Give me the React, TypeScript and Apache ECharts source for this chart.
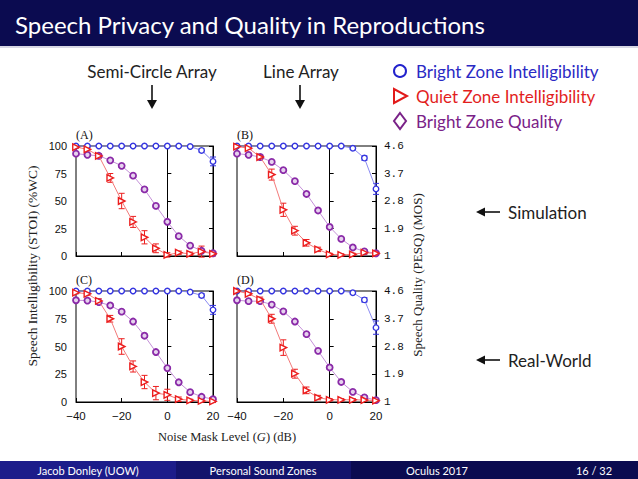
import React, { useEffect, useRef } from "react";
import * as echarts from "echarts";

const noiseLevels = [-40, -35, -30, -25, -20, -15, -10, -5, 0, 5, 10, 15, 20];
const panelNames = ["(A)", "(B)", "(C)", "(D)"];

// Bright zone intelligibility (STOI %WC)
const brightA = [100, 100, 100, 100, 100, 100, 100, 100, 100, 100, 99.5, 96, 86];
const brightB = [100, 100, 100, 100, 100, 100, 100, 100, 100, 100, 98, 89, 61];
const brightC = [100, 100, 100, 100, 100, 100, 100, 100, 100, 100, 99, 96, 83];
const brightD = [100, 100, 100, 100, 100, 100, 100, 100, 100, 100, 98.5, 92, 67];
const brightErrA = [0.5, 0.5, 0.5, 0.5, 0.5, 0.5, 0.5, 0.5, 0.5, 0.5, 0.8, 1.5, 4];
const brightErrB = [0.5, 0.5, 0.5, 0.5, 0.5, 0.5, 0.5, 0.5, 0.5, 0.5, 1, 2, 5];
const brightErrC = [0.5, 0.5, 0.5, 0.5, 0.5, 0.5, 0.5, 0.5, 0.5, 0.5, 1, 1.5, 4];
const brightErrD = [0.5, 0.5, 0.5, 0.5, 0.5, 0.5, 0.5, 0.5, 0.5, 0.5, 1, 2, 6];

// Quiet zone intelligibility (STOI %WC)
const quietA = [99, 97, 91, 71, 50, 31, 17, 7, 1, 3, 2, 4, 2];
const quietB = [99.5, 98, 90, 74, 42, 23, 12, 6, 1.5, 1, 1.5, 3, 2.4];
const quietC = [98.5, 97.5, 91, 75, 50, 32, 18, 8, 6.5, 2.5, 1.5, 1, 0.5];
const quietD = [100, 97.5, 92.5, 75, 49, 25.5, 10.5, 4, 2, 2, 2, 1.8, 1.2];
const quietErrA = [1, 1.5, 2, 4, 7, 5, 6, 4, 2, 1.5, 1.5, 5, 2];
const quietErrB = [0.5, 1, 2, 5, 6, 4, 3, 2, 1, 1, 1, 1.5, 1];
const quietErrC = [1, 1.5, 2, 3, 7, 5, 6, 6, 5, 2, 1, 1, 1];
const quietErrD = [0.5, 1.5, 2, 4, 7, 4, 3, 2, 1, 1, 1, 1, 1];

// Bright zone quality (PESQ MOS)
const qualityA = [4.35, 4.31, 4.28, 4.13, 3.95, 3.63, 3.18, 2.64, 2.12, 1.65, 1.34, 1.17, 1.09];
const qualityB = [4.35, 4.31, 4.24, 4.08, 3.81, 3.45, 3.03, 2.49, 1.95, 1.56, 1.28, 1.15, 1.09];
const qualityC = [4.3, 4.29, 4.24, 4.13, 3.93, 3.61, 3.15, 2.62, 2.1, 1.64, 1.32, 1.17, 1.09];
const qualityD = [4.3, 4.27, 4.27, 4.16, 3.94, 3.61, 3.2, 2.66, 2.12, 1.65, 1.33, 1.15, 1.06];
const qualityErr = [0.05, 0.05, 0.05, 0.05, 0.05, 0.05, 0.05, 0.05, 0.05, 0.05, 0.05, 0.05, 0.05];

const stoiTickLabels = ["0", "25", "50", "75", "100"];
const mosTickLabels = ["1", "1.9", "2.8", "3.7", "4.6"];
const mosMin = 1;
const mosMax = 4.6;

const brightSets = [brightA, brightB, brightC, brightD];
const brightErrSets = [brightErrA, brightErrB, brightErrC, brightErrD];
const quietSets = [quietA, quietB, quietC, quietD];
const quietErrSets = [quietErrA, quietErrB, quietErrC, quietErrD];
const qualitySets = [qualityA, qualityB, qualityC, qualityD];

const BLUE = "#3636e0";
const BLUE_LINE = "#8a8af2";
const RED = "#ec1e1e";
const RED_LINE = "#f27a7a";
const PURPLE = "#8a2aa8";
const PURPLE_LINE = "#c48fd8";

const gridBoxes = [
  { left: 76, top: 146, width: 137, height: 110 },
  { left: 237, top: 146, width: 139, height: 110 },
  { left: 76, top: 291, width: 137, height: 111 },
  { left: 237, top: 291, width: 139, height: 111 },
];

const mosToScale = (m: number) => ((m - mosMin) / (mosMax - mosMin)) * 100;

function errorSeries(xi: number, yi: number, vals: number[], errs: number[], color: string, toScale?: (v: number) => number) {
  const f = toScale || ((v: number) => v);
  return {
    type: "custom",
    coordinateSystem: "cartesian2d",
    xAxisIndex: xi,
    yAxisIndex: yi,
    silent: true,
    z: 3,
    encode: { x: 0, y: [1, 2] },
    data: noiseLevels.map((x, i) => [x, f(vals[i] - errs[i]), f(vals[i] + errs[i])]),
    renderItem: (params: any, api: any) => {
      const x = api.value(0);
      const lo = api.coord([x, api.value(1)]);
      const hi = api.coord([x, api.value(2)]);
      const w = 3;
      const st = { stroke: color, lineWidth: 1 };
      return {
        type: "group",
        children: [
          { type: "line", shape: { x1: hi[0], y1: hi[1], x2: lo[0], y2: lo[1] }, style: st },
          { type: "line", shape: { x1: hi[0] - w, y1: hi[1], x2: hi[0] + w, y2: hi[1] }, style: st },
          { type: "line", shape: { x1: lo[0] - w, y1: lo[1], x2: lo[0] + w, y2: lo[1] }, style: st },
        ],
      };
    },
  };
}

export default function App() {
  const ref = useRef<HTMLDivElement>(null);
  useEffect(() => {
    document.body.style.margin = "0";
    if (!ref.current) return;
    const chart = echarts.init(ref.current, null, { renderer: "svg" });

    const grid = gridBoxes.map((g) => ({
      ...g,
      show: true,
      borderColor: "#000",
      borderWidth: 1,
      backgroundColor: "transparent",
      containLabel: false,
      outerBoundsMode: "none",
    }));

    const xAxis = gridBoxes.map((_, p) => ({
      type: "value",
      gridIndex: p,
      min: -40,
      max: 20,
      interval: 20,
      axisLine: { show: true, lineStyle: { color: "#000", width: 1 } },
      axisTick: { show: true, inside: true, length: 4, lineStyle: { color: "#000" } },
      splitLine: { show: false },
      axisLabel: {
        show: p >= 2,
        margin: 8,
        fontFamily: "Liberation Sans",
        fontSize: 11.5,
        color: "#111",
        formatter: (v: number) => (v < 0 ? "\u2212" + Math.abs(v) : String(v)),
      },
    }));

    const yAxis: any[] = [];
    gridBoxes.forEach((_, p) => {
      yAxis.push({
        type: "value",
        gridIndex: p,
        position: "left",
        min: 0,
        max: 100,
        interval: 25,
        axisLine: { show: true, lineStyle: { color: "#000", width: 1 } },
        axisTick: { show: true, inside: true, length: 4, lineStyle: { color: "#000" } },
        splitLine: { show: false },
        axisLabel: {
          show: p % 2 === 0,
          margin: 9,
          fontFamily: "Liberation Sans",
          fontSize: 11,
          color: "#111",
          formatter: (v: number) => stoiTickLabels[Math.round(v / 25)],
        },
      });
      yAxis.push({
        type: "value",
        gridIndex: p,
        position: "right",
        min: 0,
        max: 100,
        interval: 25,
        axisLine: { show: true, lineStyle: { color: "#000", width: 1 } },
        axisTick: { show: true, inside: true, length: 4, lineStyle: { color: "#000" } },
        splitLine: { show: false },
        axisLabel: {
          show: p % 2 === 1,
          margin: 8,
          fontFamily: "Liberation Mono",
          fontSize: 11,
          color: "#111",
          formatter: (v: number) => mosTickLabels[Math.round(v / 25)],
        },
      });
    });

    const series: any[] = [];
    gridBoxes.forEach((_, p) => {
      const left = 2 * p;
      const right = 2 * p + 1;
      // Bright zone intelligibility
      series.push(errorSeries(p, left, brightSets[p], brightErrSets[p], BLUE));
      series.push({
        type: "line",
        xAxisIndex: p,
        yAxisIndex: left,
        data: noiseLevels.map((x, i) => [x, brightSets[p][i]]),
        lineStyle: { color: BLUE_LINE, width: 1 },
        symbol: "circle",
        symbolSize: 5.5,
        itemStyle: { color: "#fff", borderColor: BLUE, borderWidth: 1.4 },
        z: 4,
      });
      // Bright zone quality
      series.push(errorSeries(p, right, qualitySets[p], qualityErr, PURPLE, mosToScale));
      series.push({
        type: "line",
        xAxisIndex: p,
        yAxisIndex: right,
        data: noiseLevels.map((x, i) => [x, mosToScale(qualitySets[p][i])]),
        lineStyle: { color: PURPLE_LINE, width: 1 },
        symbol: "circle",
        symbolSize: 6,
        itemStyle: { color: "#e6d2ee", borderColor: PURPLE, borderWidth: 1.8 },
        z: 4,
      });
      // Quiet zone intelligibility
      series.push(errorSeries(p, left, quietSets[p], quietErrSets[p], RED));
      series.push({
        type: "line",
        xAxisIndex: p,
        yAxisIndex: left,
        data: noiseLevels.map((x, i) => [x, quietSets[p][i]]),
        lineStyle: { color: RED_LINE, width: 1 },
        symbol: "triangle",
        symbolRotate: -90,
        symbolSize: 6.5,
        itemStyle: { color: "#fff", borderColor: RED, borderWidth: 1.4 },
        z: 5,
      });
    });

    const serif = "Liberation Serif";
    const sans = "Lato";

    const graphic: any[] = [
      // title bar
      { type: "rect", shape: { x: 0, y: 0, width: 638, height: 46 }, style: { fill: "#0b0b50" }, z: 10 },
      { type: "rect", shape: { x: 0, y: 46, width: 638, height: 2 }, style: { fill: "#d8d8e4" }, z: 10 },
      {
        type: "text",
        x: 15,
        y: 24,
        style: { text: "Speech Privacy and Quality in Reproductions", fill: "#fff", font: `24px ${sans}`, verticalAlign: "middle" },
        z: 11,
      },
      // column headers
      { type: "text", x: 152, y: 71, style: { text: "Semi-Circle Array", fill: "#222", font: `17px ${sans}`, align: "center", verticalAlign: "middle" } },
      { type: "text", x: 301, y: 71, style: { text: "Line Array", fill: "#222", font: `17px ${sans}`, align: "center", verticalAlign: "middle" } },
      { type: "line", shape: { x1: 152, y1: 85, x2: 152, y2: 103 }, style: { stroke: "#111", lineWidth: 1.6 } },
      { type: "polygon", shape: { points: [[147, 100], [157, 100], [152, 109]] }, style: { fill: "#111" } },
      { type: "line", shape: { x1: 300, y1: 85, x2: 300, y2: 103 }, style: { stroke: "#111", lineWidth: 1.6 } },
      { type: "polygon", shape: { points: [[295, 100], [305, 100], [300, 109]] }, style: { fill: "#111" } },
      // legend
      { type: "circle", shape: { cx: 400, cy: 71, r: 6 }, style: { fill: "none", stroke: "#2222cc", lineWidth: 2 } },
      { type: "text", x: 416, y: 71, style: { text: "Bright Zone Intelligibility", fill: "#2a2ac4", font: `17px ${sans}`, verticalAlign: "middle" } },
      { type: "polygon", shape: { points: [[394, 89], [394, 103], [407, 96]] }, style: { fill: "none", stroke: "#e21a1a", lineWidth: 2 } },
      { type: "text", x: 416, y: 96, style: { text: "Quiet Zone Intelligibility", fill: "#e21e1e", font: `17px ${sans}`, verticalAlign: "middle" } },
      { type: "polygon", shape: { points: [[400, 113], [406, 121], [400, 129], [394, 121]] }, style: { fill: "none", stroke: "#7a2288", lineWidth: 2 } },
      { type: "text", x: 416, y: 121, style: { text: "Bright Zone Quality", fill: "#7a2288", font: `17px ${sans}`, verticalAlign: "middle" } },
      // panel letters
      ...panelNames.map((t, i) => ({
        type: "text",
        x: gridBoxes[i].left,
        y: gridBoxes[i].top - 11,
        style: { text: t, fill: "#111", font: `12px ${serif}`, verticalAlign: "middle" },
      })),
      // axis titles
      {
        type: "text",
        x: 32,
        y: 266,
        rotation: Math.PI / 2,
        style: { text: "Speech Intelligibility (STOI) (%WC)", fill: "#222", font: `13.5px ${serif}`, align: "center", verticalAlign: "middle" },
      },
      {
        type: "text",
        x: 417,
        y: 275,
        rotation: Math.PI / 2,
        style: { text: "Speech Quality (PESQ) (MOS)", fill: "#222", font: `13px ${serif}`, align: "center", verticalAlign: "middle" },
      },
      {
        type: "text",
        x: 227,
        y: 437,
        style: {
          text: "Noise Mask Level ({i|G}) (dB)",
          fill: "#222",
          font: `12.5px ${serif}`,
          align: "center",
          verticalAlign: "middle",
          rich: { i: { fontStyle: "italic", fontFamily: serif, fontSize: 12.5, fill: "#222" } },
        },
      },
      // row annotations
      { type: "line", shape: { x1: 482, y1: 212, x2: 500, y2: 212 }, style: { stroke: "#111", lineWidth: 1.6 } },
      { type: "polygon", shape: { points: [[476, 212], [485, 207.5], [485, 216.5]] }, style: { fill: "#111" } },
      { type: "text", x: 508, y: 212, style: { text: "Simulation", fill: "#222", font: `17px ${sans}`, verticalAlign: "middle" } },
      { type: "line", shape: { x1: 482, y1: 360, x2: 500, y2: 360 }, style: { stroke: "#111", lineWidth: 1.6 } },
      { type: "polygon", shape: { points: [[476, 360], [485, 355.5], [485, 364.5]] }, style: { fill: "#111" } },
      { type: "text", x: 508, y: 360, style: { text: "Real-World", fill: "#222", font: `17px ${sans}`, verticalAlign: "middle" } },
      // footer
      { type: "rect", shape: { x: 0, y: 461, width: 176, height: 18 }, style: { fill: "#1c1c8a" }, z: 10 },
      { type: "rect", shape: { x: 176, y: 461, width: 175, height: 18 }, style: { fill: "#13136c" }, z: 10 },
      { type: "rect", shape: { x: 351, y: 461, width: 287, height: 18 }, style: { fill: "#0b0b50" }, z: 10 },
      { type: "text", x: 88, y: 470, z: 11, style: { text: "Jacob Donley (UOW)", fill: "#fff", font: `11px ${sans}`, align: "center", verticalAlign: "middle" } },
      { type: "text", x: 263, y: 470, z: 11, style: { text: "Personal Sound Zones", fill: "#fff", font: `11px ${sans}`, align: "center", verticalAlign: "middle" } },
      { type: "text", x: 437, y: 470, z: 11, style: { text: "Oculus 2017", fill: "#fff", font: `11px ${sans}`, align: "center", verticalAlign: "middle" } },
      { type: "text", x: 594, y: 470, z: 11, style: { text: "16 / 32", fill: "#fff", font: `11px ${sans}`, align: "center", verticalAlign: "middle" } },
    ];

    chart.setOption({
      animation: false,
      backgroundColor: "#fff",
      grid,
      xAxis,
      yAxis,
      series,
      graphic,
    });
    return () => chart.dispose();
  }, []);
  return <div ref={ref} style={{ width: 638, height: 479 }} />;
}
